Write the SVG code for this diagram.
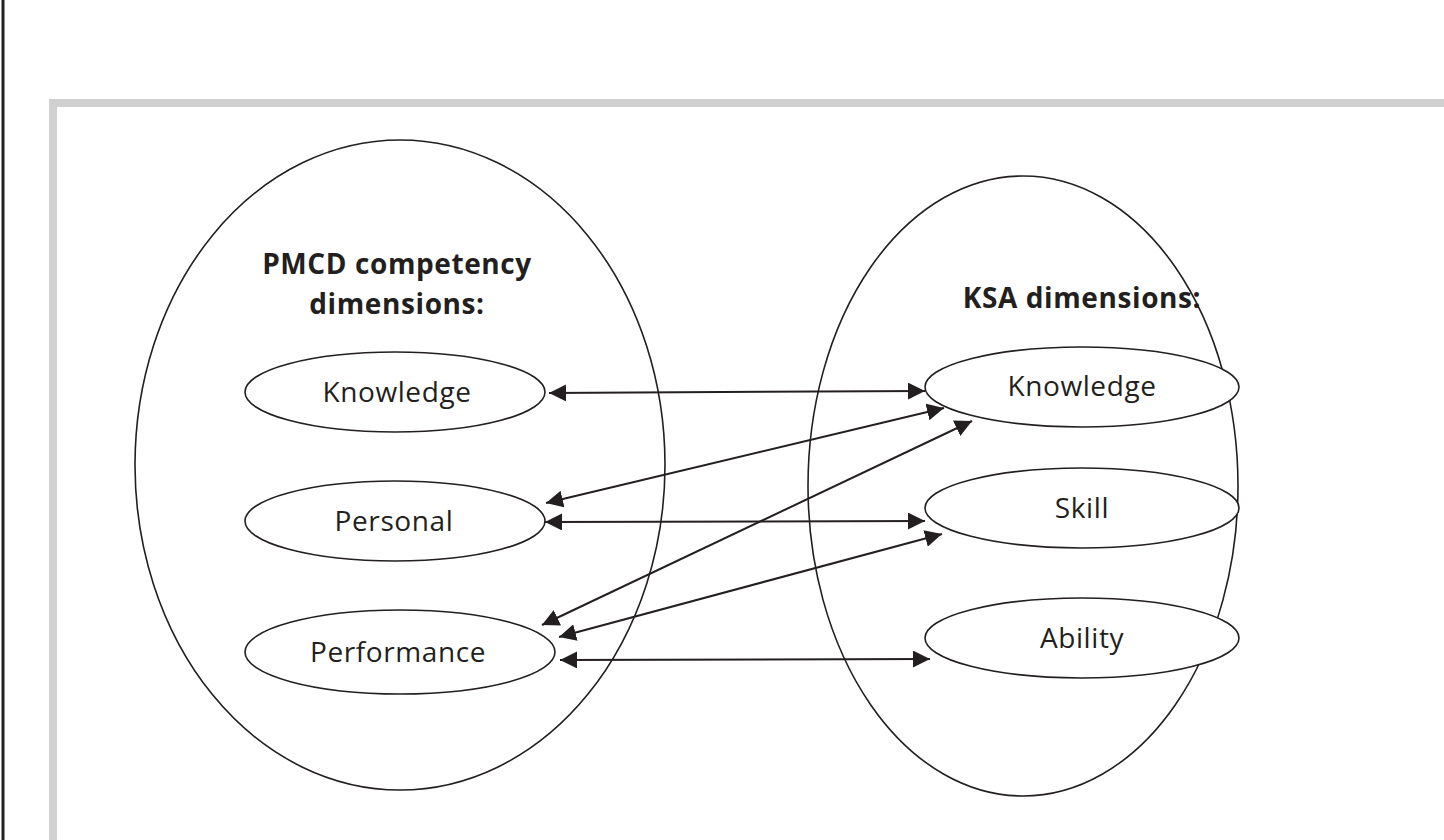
<svg xmlns="http://www.w3.org/2000/svg" width="1444" height="840" viewBox="0 0 1444 840">
<style>
.big{fill:none;stroke:#231f20;stroke-width:1.6}
.sm{fill:#fff;stroke:#231f20;stroke-width:1.6}
.t{font-family:"Open Sans",Lato,sans-serif;font-size:28px;letter-spacing:0.6px;fill:#231f20;text-anchor:middle}
.h{font-family:"Open Sans",Lato,sans-serif;font-size:28px;font-weight:bold;letter-spacing:0.6px;fill:#231f20;text-anchor:middle}
.c line{stroke:#231f20;stroke-width:2;marker-start:url(#a2);marker-end:url(#a2)}
</style>
<defs>
<marker id="a2" viewBox="0 0 10 10" refX="10" refY="5" markerWidth="8.5" markerHeight="8.5" orient="auto-start-reverse"><path d="M0,0L10,5L0,10z" fill="#231f20"/></marker></defs>
<rect width="1444" height="840" fill="#fff"/>
<line x1="3" y1="0" x2="3" y2="840" stroke="#231f20" stroke-width="3"/>
<rect x="53" y="103" width="1420" height="780" fill="none" stroke="#d0d0d0" stroke-width="8"/>
<g id="pmcd"><ellipse class="big" cx="400" cy="465" rx="265" ry="325"/>
<text class="h" x="397" y="274">PMCD competency</text><text class="h" x="397" y="314">dimensions:</text></g>
<g id="ksa"><ellipse class="big" cx="1023" cy="486" rx="215" ry="310"/>
<text class="h" x="1082" y="308">KSA dimensions:</text></g>
<g id="pk"><ellipse class="sm" cx="395" cy="392" rx="150" ry="40"/><text class="t" x="397" y="402">Knowledge</text></g>
<g id="pp"><ellipse class="sm" cx="395" cy="521" rx="150" ry="40"/><text class="t" x="394" y="531">Personal</text></g>
<g id="pf"><ellipse class="sm" cx="400" cy="652" rx="155" ry="42"/><text class="t" x="398" y="662">Performance</text></g>
<g id="kk"><ellipse class="sm" cx="1082" cy="387" rx="157" ry="40"/><text class="t" x="1082" y="396">Knowledge</text></g>
<g id="ks"><ellipse class="sm" cx="1082" cy="508" rx="157" ry="40"/><text class="t" x="1082" y="518">Skill</text></g>
<g id="ka"><ellipse class="sm" cx="1082" cy="638" rx="157" ry="40"/><text class="t" x="1082" y="648">Ability</text></g>
<g class="c" id="connectors">
<line x1="549" y1="393" x2="925" y2="391"/>
<line x1="546" y1="503" x2="944" y2="408"/>
<line x1="542" y1="625" x2="972" y2="421"/>
<line x1="545" y1="522" x2="925" y2="521"/>
<line x1="559" y1="637" x2="942" y2="534"/>
<line x1="560" y1="660" x2="930" y2="659"/>
</g>
</svg>
